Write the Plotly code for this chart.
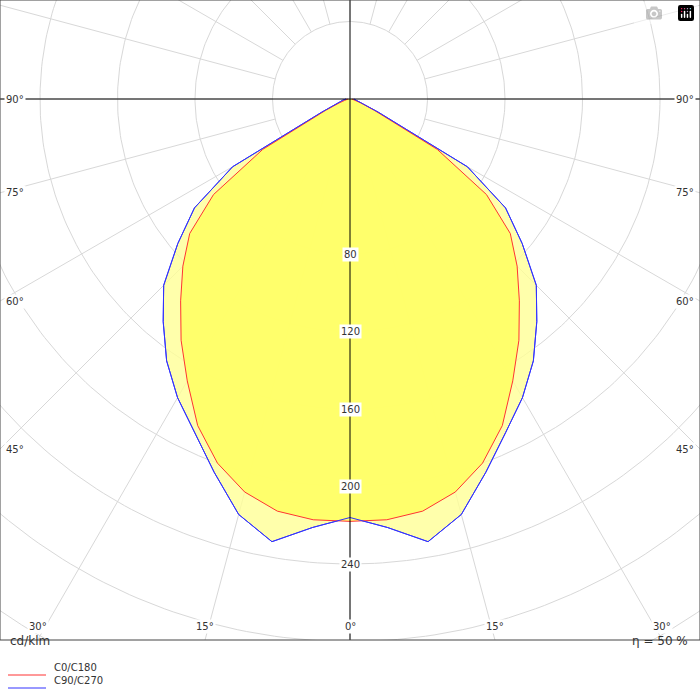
import numpy as np
import plotly.graph_objects as go

angles = [0,5,10,15,20,25,30,35,40,45,50,55,60,65,70,75,80,85,90]
c0_c180 = [218,218,216,210,200,186,168,152,136,122,108,86,52,14,6,3,2,1.5,1]
c90_c270 = [216,222,232,222,205,190,178,165,150,136,116,98,70,16,8,5,4,3,2]
ring_values = [40,80,120,160,200,240,280,320,360,400]
ring_labels = [80,120,160,200,240]
spoke_angles = list(range(0,360,15))
edge_labels_side = [90,75,60,45]
edge_labels_bottom = [30,15,0]

S = 1.9375  # px per unit
XR = [-350/S, 350/S]
YR = [-(640-99)/S, 99/S]

def curve(vals):
    th = np.deg2rad(np.array(angles))
    v = np.array(vals, float)
    xr, yr = v*np.sin(th), -v*np.cos(th)
    x = np.concatenate([-xr[::-1], xr[1:]])
    y = np.concatenate([yr[::-1], yr[1:]])
    return x, y

fig = go.Figure()
t = np.linspace(0, 2*np.pi, 361)
for r in ring_values:
    fig.add_trace(go.Scatter(x=r*np.cos(t), y=r*np.sin(t), mode='lines',
                             line=dict(color='#d8d8d8', width=1), hoverinfo='skip'))
for a in spoke_angles:
    th = np.deg2rad(a)
    r0 = 40
    fig.add_trace(go.Scatter(x=[r0*np.sin(th), 600*np.sin(th)], y=[-r0*np.cos(th), -600*np.cos(th)],
                             mode='lines', line=dict(color='#d8d8d8', width=1), hoverinfo='skip'))

bx, by = curve(c90_c270)
rx, ry = curve(c0_c180)
fig.add_trace(go.Scatter(x=bx, y=by, fill='toself', fillcolor='rgba(255,255,150,0.8)',
                         mode='lines', line=dict(color='#3333ff', width=1)))
fig.add_trace(go.Scatter(x=rx, y=ry, fill='toself', fillcolor='rgba(255,255,100,0.9)',
                         mode='lines', line=dict(color='#ff3333', width=1)))
fig.add_trace(go.Scatter(x=bx, y=by, mode='lines', line=dict(color='#3333ff', width=1)))
fig.add_trace(go.Scatter(x=[XR[0], XR[1]], y=[0, 0], mode='lines', line=dict(color='black', width=1)))
fig.add_trace(go.Scatter(x=[0, 0], y=[YR[0], YR[1]], mode='lines', line=dict(color='black', width=1)))

ann = []
for v in ring_labels:
    ann.append(dict(x=0, y=-v, text=str(v), showarrow=False, bgcolor='white',
                    font=dict(size=10, color='#333')))
for a in edge_labels_side:
    yv = -(350/S)/np.tan(np.deg2rad(a)) if a != 90 else 0
    for side, anc in ((-1, 'left'), (1, 'right')):
        ann.append(dict(x=side*(350/S) - side*2, y=yv, text=f"{a}°", showarrow=False,
                        xanchor=anc, bgcolor='white', font=dict(size=10, color='#333')))
for a in edge_labels_bottom:
    xv = (541/S)*np.tan(np.deg2rad(a))
    for side in ((-1, 1) if a else (1,)):
        ann.append(dict(x=side*xv, y=YR[0]+7, text=f"{a}°", showarrow=False,
                        bgcolor='white', font=dict(size=10, color='#333')))

ann += [
    dict(xref='paper', yref='paper', x=8/700, y=1-650/700, text='cd/klm', showarrow=False,
         xanchor='left', font=dict(size=12, color='#333')),
    dict(xref='paper', yref='paper', x=690/700, y=1-650/700, text='η = 50 %', showarrow=False,
         xanchor='right', font=dict(size=12, color='#333')),
    dict(xref='paper', yref='paper', x=52/700, y=1-675/700, text='C0/C180', showarrow=False,
         xanchor='left', font=dict(size=10, color='#333')),
    dict(xref='paper', yref='paper', x=52/700, y=1-688/700, text='C90/C270', showarrow=False,
         xanchor='left', font=dict(size=10, color='#333')),
]
shapes = [
    dict(type='rect', xref='paper', yref='paper', x0=0, x1=1, y0=1-640/700, y1=1,
         line=dict(color='#444', width=1)),
    dict(type='line', xref='paper', yref='paper', x0=8/700, x1=46/700, y0=1-675/700, y1=1-675/700,
         line=dict(color='#ff3333', width=1)),
    dict(type='line', xref='paper', yref='paper', x0=8/700, x1=46/700, y0=1-688/700, y1=1-688/700,
         line=dict(color='#3333ff', width=1)),
]

fig.update_layout(width=700, height=700, margin=dict(l=0, r=0, t=0, b=0),
                  paper_bgcolor='white', plot_bgcolor='white', showlegend=False,
                  font=dict(family='DejaVu Sans'),
                  xaxis=dict(range=XR, visible=False, fixedrange=True),
                  yaxis=dict(range=YR, visible=False, domain=[1-640/700, 1], fixedrange=True),
                  annotations=ann, shapes=shapes)
fig.write_html("out.html", post_script="document.body.style.margin='0';document.body.style.overflow='hidden';")
